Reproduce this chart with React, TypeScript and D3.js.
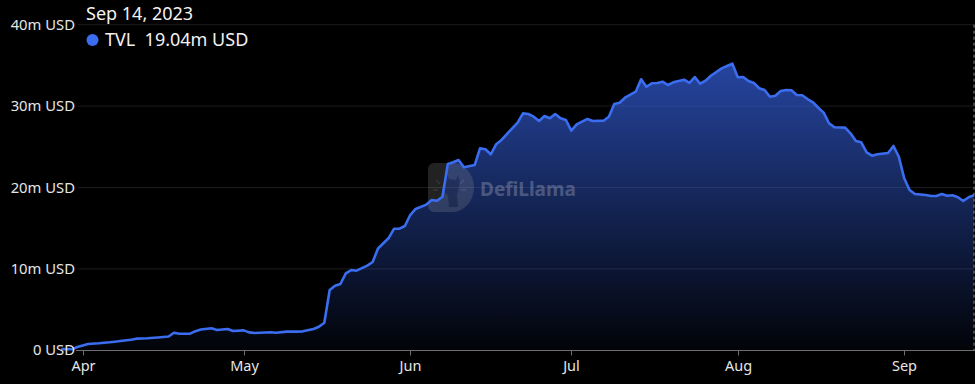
import React from "react";
import * as d3 from "d3";

const dates: string[] = [
  "2023-03-28","2023-03-30","2023-03-31","2023-04-02","2023-04-04","2023-04-06","2023-04-07","2023-04-08",
  "2023-04-10","2023-04-11","2023-04-13","2023-04-15","2023-04-17","2023-04-18","2023-04-19","2023-04-21",
  "2023-04-22","2023-04-23","2023-04-25","2023-04-26","2023-04-28","2023-04-29","2023-05-01","2023-05-02",
  "2023-05-03","2023-05-04","2023-05-06","2023-05-07","2023-05-09","2023-05-11","2023-05-12","2023-05-14",
  "2023-05-15","2023-05-16","2023-05-17","2023-05-18","2023-05-19","2023-05-20","2023-05-21","2023-05-22",
  "2023-05-24","2023-05-25","2023-05-26","2023-05-28","2023-05-29","2023-05-30","2023-05-31","2023-06-01",
  "2023-06-02","2023-06-04","2023-06-05","2023-06-06","2023-06-07","2023-06-08","2023-06-09","2023-06-10",
  "2023-06-11","2023-06-13","2023-06-14","2023-06-15","2023-06-16","2023-06-17","2023-06-18","2023-06-20",
  "2023-06-21","2023-06-22","2023-06-23","2023-06-24","2023-06-25","2023-06-26","2023-06-27","2023-06-28",
  "2023-06-29","2023-06-30","2023-07-01","2023-07-02","2023-07-04","2023-07-05","2023-07-07","2023-07-08",
  "2023-07-09","2023-07-10","2023-07-11","2023-07-13","2023-07-14","2023-07-15","2023-07-16","2023-07-17",
  "2023-07-18","2023-07-19","2023-07-20","2023-07-22","2023-07-23","2023-07-24","2023-07-25","2023-07-26",
  "2023-07-27","2023-07-29","2023-07-30","2023-07-31","2023-08-01","2023-08-02","2023-08-03","2023-08-04",
  "2023-08-05","2023-08-06","2023-08-07","2023-08-08","2023-08-09","2023-08-10","2023-08-11","2023-08-12",
  "2023-08-13","2023-08-14","2023-08-15","2023-08-16","2023-08-17","2023-08-18","2023-08-19","2023-08-21",
  "2023-08-22","2023-08-23","2023-08-24","2023-08-25","2023-08-26","2023-08-27","2023-08-29","2023-08-30",
  "2023-08-31","2023-09-01","2023-09-02","2023-09-03","2023-09-05","2023-09-06","2023-09-07","2023-09-08",
  "2023-09-09","2023-09-10","2023-09-11","2023-09-12","2023-09-13","2023-09-14",
];

// TVL in millions of USD
const tvl: number[] = [
  0.15,0.12,0.4,0.78,0.86,0.98,1.06,1.14,
  1.3,1.43,1.48,1.58,1.7,2.16,2.04,2.04,
  2.35,2.55,2.7,2.5,2.62,2.37,2.45,2.2,
  2.13,2.16,2.21,2.16,2.29,2.29,2.33,2.62,
  2.9,3.39,7.41,7.94,8.14,9.46,9.86,9.78,
  10.4,10.85,12.5,13.8,14.94,14.94,15.27,16.62,
  17.36,17.9,18.46,18.38,18.87,22.89,23.1,23.38,
  22.48,22.76,24.81,24.69,24.08,25.31,25.84,27.27,
  27.96,29.11,29.03,28.7,28.17,28.78,28.5,29.03,
  28.5,28.29,26.98,27.76,28.42,28.17,28.21,28.7,
  30.26,30.42,31.03,31.77,33.3,32.38,32.8,32.84,
  33.0,32.59,32.92,33.24,32.84,33.57,32.75,33.12,
  33.73,34.64,34.93,35.21,33.54,33.57,33.08,32.84,
  32.19,31.98,31.15,31.28,31.86,31.98,31.94,31.36,
  31.33,30.87,30.47,29.8,29.2,27.89,27.4,27.35,
  26.66,25.71,25.55,24.32,23.91,24.08,24.24,25.1,
  23.78,21.13,19.69,19.2,19.08,18.96,18.96,19.2,
  18.99,19.04,18.8,18.34,18.8,19.04,
];

const yTicks: number[] = [0, 10, 20, 30, 40];
const yTickLabels: string[] = ["0 USD", "10m USD", "20m USD", "30m USD", "40m USD"];
const monthTicks: string[] = ["2023-04-01", "2023-05-01", "2023-06-01", "2023-07-01", "2023-08-01", "2023-09-01"];
const monthLabels: string[] = ["Apr", "May", "Jun", "Jul", "Aug", "Sep"];

const tooltipDate = "Sep 14, 2023";
const tooltipSeries = "TVL";
const tooltipValue = "19.04m USD";

const W = 975;
const H = 384;
const FONT = "'Noto Sans', 'Open Sans', sans-serif";
const LINE = "#3b6df0";

export default function App() {
  const parse = d3.utcParse("%Y-%m-%d");
  const data = dates.map((d, i) => ({ date: parse(d) as Date, v: tvl[i] }));

  const x = d3
    .scaleUtc()
    .domain([parse("2023-04-01") as Date, parse("2023-09-14") as Date])
    .range([82.7, 974]);
  const y = d3.scaleLinear().domain([0, 40]).range([350.3, 24.7]);

  const line = d3
    .line<{ date: Date; v: number }>()
    .x((d) => x(d.date))
    .y((d) => y(d.v))
    .curve(d3.curveLinear);
  const area = d3
    .area<{ date: Date; v: number }>()
    .x((d) => x(d.date))
    .y0(y(0))
    .y1((d) => y(d.v))
    .curve(d3.curveLinear);

  const maxV = d3.max(tvl) as number;
  const gridLeft = 78;
  const lastX = x(data[data.length - 1].date);

  return (
    <svg
      width={W}
      height={H}
      style={{ position: "absolute", left: 0, top: 0, display: "block", background: "#000" }}
    >
      <defs>
        <linearGradient id="areaGrad" x1="0" y1={y(maxV)} x2="0" y2={y(0)} gradientUnits="userSpaceOnUse">
          <stop offset="0%" stopColor="#3058cc" stopOpacity={0.78} />
          <stop offset="100%" stopColor="#3058cc" stopOpacity={0.04} />
        </linearGradient>
      </defs>
      <rect x={0} y={0} width={W} height={H} fill="#000" />

      {/* grid lines */}
      {yTicks.map((t) =>
        t === 0 ? null : (
          <line key={t} x1={gridLeft} x2={W} y1={y(t)} y2={y(t)} stroke="#1c1c1c" strokeWidth={1} />
        )
      )}

      {/* area */}
      <path d={area(data) as string} fill="url(#areaGrad)" />

      {/* watermark */}
      <g opacity={0.22}>
        <path
          d="M434,163 H452 A22,24.5 0 0 1 452,212 H434 A6,6 0 0 1 428,206 V169 A6,6 0 0 1 434,163 Z"
          fill="#9a9a9a"
        />
        <path
          d="M444,178 L446,172 L449,179 L456,180 L458,175 L460,182 L457,195 L458,207 L449,207 L448,196 L443,190 Z"
          fill="#4a4a4a"
        />
        <line x1={436} y1={180} x2={440} y2={184} stroke="#eee" strokeWidth={1.5} />
        <line x1={433} y1={190} x2={438} y2={190} stroke="#eee" strokeWidth={1.5} />
        <line x1={464} y1={180} x2={460} y2={184} stroke="#eee" strokeWidth={1.5} />
        <line x1={466} y1={190} x2={461} y2={190} stroke="#eee" strokeWidth={1.5} />
        <text x={480} y={196} fill="#fff" fontFamily={FONT} fontWeight={700} fontSize={19}>
          DefiLlama
        </text>
      </g>

      {/* line */}
      <path d={line(data) as string} fill="none" stroke={LINE} strokeWidth={2.6} strokeLinejoin="round" />

      {/* x axis */}
      <line x1={76} x2={W} y1={350.5} y2={350.5} stroke="#6e6e6e" strokeWidth={1} />
      {monthTicks.map((m, i) => {
        const xx = Math.round(x(parse(m) as Date)) + 0.5;
        return (
          <g key={m}>
            <line x1={xx} x2={xx} y1={350.5} y2={355.5} stroke="#6e6e6e" strokeWidth={1} />
            <text x={xx} y={371} textAnchor="middle" fill="#e6e6e6" fontFamily={FONT} fontSize={14.5}>
              {monthLabels[i]}
            </text>
          </g>
        );
      })}

      {/* y labels */}
      {yTicks.map((t, i) => (
        <text
          key={t}
          x={75}
          y={y(t)}
          dy="0.35em"
          textAnchor="end"
          fill="#e6e6e6"
          fontFamily={FONT}
          fontSize={14.8}
        >
          {yTickLabels[i]}
        </text>
      ))}

      {/* crosshair */}
      <line
        x1={lastX}
        x2={lastX}
        y1={24.7}
        y2={350.3}
        stroke="#8a8a8a"
        strokeWidth={1}
        strokeDasharray="3,3"
      />

      {/* tooltip header */}
      <text x={86} y={19.5} fill="#f2f2f2" fontFamily={FONT} fontSize={18}>
        {tooltipDate}
      </text>
      <circle cx={92.5} cy={40} r={6} fill={LINE} />
      <text x={105} y={46} fill="#f2f2f2" fontFamily={FONT} fontSize={18} style={{ whiteSpace: "pre" }}>
        {`${tooltipSeries}  ${tooltipValue}`}
      </text>
    </svg>
  );
}
